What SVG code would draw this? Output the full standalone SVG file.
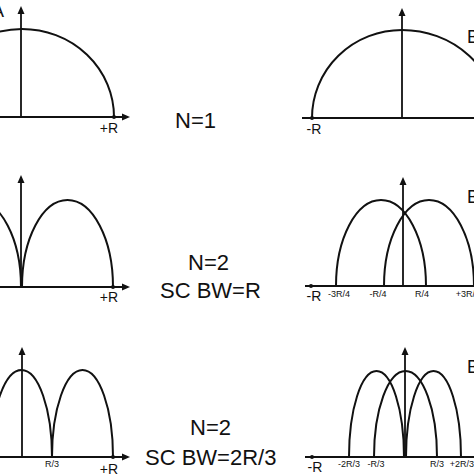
<svg xmlns="http://www.w3.org/2000/svg" width="474" height="474" viewBox="0 0 474 474">
<style>
.ax{fill:none;stroke:#111;stroke-width:1.8}
.cv{fill:none;stroke:#111;stroke-width:2}
.lbl{font-family:"Liberation Sans",Arial,sans-serif;fill:#111}
.r{font-size:14px;text-anchor:middle}
.s{font-size:9px;text-anchor:middle}
.n{font-size:22px}
.b{font-size:18px}
</style>
<defs>
<marker id="ah" markerUnits="userSpaceOnUse" markerWidth="10" markerHeight="10" refX="1" refY="0" viewBox="0 -5 10 10" orient="auto">
<path d="M0,-3.5 L8,0 L0,3.5 z" fill="#111"/>
</marker>
</defs>
<rect width="474" height="474" fill="#fff"/>

<g id="connectors">
<!-- panel 1 axes -->
<path class="ax" d="M0 117 H123" marker-end="url(#ah)"/>
<path class="ax" d="M21 117 V13" marker-end="url(#ah)"/>
<!-- panel 2 axes -->
<path class="ax" d="M302 118 H474"/>
<path class="ax" d="M402 118 V15" marker-end="url(#ah)"/>
<!-- panel 3 axes -->
<path class="ax" d="M0 287 H123" marker-end="url(#ah)"/>
<path class="ax" d="M21 287 V182" marker-end="url(#ah)"/>
<!-- panel 4 axes -->
<path class="ax" d="M305 286 H474"/>
<path class="ax" d="M403 286 V184" marker-end="url(#ah)"/>
<!-- panel 5 axes -->
<path class="ax" d="M0 457 H123" marker-end="url(#ah)"/>
<path class="ax" d="M22 457 V354" marker-end="url(#ah)"/>
<!-- panel 6 axes -->
<path class="ax" d="M305 457 H474"/>
<path class="ax" d="M405 457 V354" marker-end="url(#ah)"/>
</g>

<g id="panel1">
<path class="cv" d="M-70 117 A92 88 0 0 1 114 117"/>
<circle cx="114" cy="117" r="2" fill="#111"/>
<text class="lbl r" x="109" y="133">+R</text>
<text class="lbl" x="4" y="17" font-size="18" text-anchor="end">A</text>
</g>

<g id="panel2">
<path class="cv" d="M312 118 A90 88 0 0 1 402 30 A95 88 0 0 1 497 118"/>
<circle cx="312" cy="118" r="2" fill="#111"/>
<text class="lbl r" x="314" y="134">-R</text>
<text class="lbl b" x="467" y="43">B</text>
</g>

<g id="label1">
<text class="lbl n" x="175" y="128">N=1</text>
</g>

<g id="panel3">
<path class="cv" d="M-70 287 A45.5 87 0 0 1 21 287"/>
<path class="cv" d="M22 287 A45.5 87 0 0 1 113 287"/>
<circle cx="113" cy="287" r="2" fill="#111"/>
<text class="lbl r" x="109" y="302">+R</text>
</g>

<g id="label2">
<text class="lbl n" x="188" y="270">N=2</text>
<text class="lbl n" x="160" y="298">SC BW=R</text>
</g>

<g id="panel4">
<path class="cv" d="M336 286 A45 86 0 0 1 426 286"/>
<path class="cv" d="M384 286 A45 86 0 0 1 474 286"/>
<circle cx="311" cy="286" r="2" fill="#111"/>
<text class="lbl r" x="314" y="301">-R</text>
<text class="lbl s" x="339" y="297">-3R/4</text>
<text class="lbl s" x="378" y="297">-R/4</text>
<text class="lbl s" x="422" y="297">R/4</text>
<text class="lbl s" x="468" y="297">+3R/4</text>
<text class="lbl b" x="467" y="203">B</text>
</g>

<g id="panel5">
<path class="cv" d="M-9 457 A30.5 87 0 0 1 52 457"/>
<path class="cv" d="M52 457 A30.5 87 0 0 1 113 457"/>
<circle cx="113" cy="457" r="2" fill="#111"/>
<text class="lbl s" x="52" y="467">R/3</text>
<text class="lbl r" x="109" y="474">+R</text>
</g>

<g id="label3">
<text class="lbl n" x="190" y="435">N=2</text>
<text class="lbl n" x="145" y="465">SC BW=2R/3</text>
</g>

<g id="panel6">
<path class="cv" d="M349 457 A27.5 86 0 0 1 404 457"/>
<path class="cv" d="M374 457 A31.5 86 0 0 1 437 457"/>
<path class="cv" d="M406 457 A27.5 86 0 0 1 461 457"/>
<circle cx="312" cy="457" r="2" fill="#111"/>
<text class="lbl r" x="315" y="472">-R</text>
<text class="lbl s" x="349" y="467">-2R/3</text>
<text class="lbl s" x="376" y="467">-R/3</text>
<text class="lbl s" x="437" y="467">R/3</text>
<text class="lbl s" x="462" y="467">+2R/3</text>
<text class="lbl b" x="467" y="373">B</text>
</g>
</svg>
